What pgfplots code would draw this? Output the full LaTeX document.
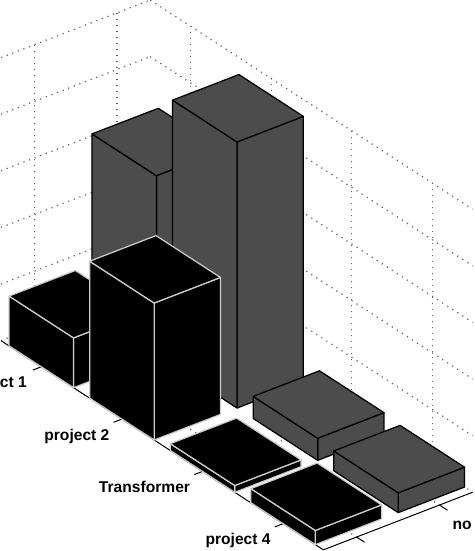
\documentclass[border=0pt]{standalone}
\usepackage{fontspec}
\setmainfont{Liberation Sans}
\usepackage{pgfplots}
\pgfplotsset{compat=1.18}

\definecolor{barfill}{gray}{0.30}
\definecolor{baredge}{gray}{0.80}
\definecolor{griddot}{gray}{0.38}

% one 3d bar: x position, y position, height, fill, edge
\newcommand{\tdbar}[5]{%
  \pgfmathsetmacro{\xa}{#1-0.4}\pgfmathsetmacro{\xb}{#1+0.4}%
  \pgfmathsetmacro{\ya}{#2-0.4}\pgfmathsetmacro{\yb}{#2+0.4}%
  % x side
  \addplot3[fill=#4,draw=#5,barline] coordinates {
    (\xb,\ya,0) (\xb,\yb,0) (\xb,\yb,#3) (\xb,\ya,#3) (\xb,\ya,0)};
  % y side
  \addplot3[fill=#4,draw=#5,barline] coordinates {
    (\xa,\ya,0) (\xb,\ya,0) (\xb,\ya,#3) (\xa,\ya,#3) (\xa,\ya,0)};
  % top
  \addplot3[fill=#4,draw=#5,barline] coordinates {
    (\xa,\ya,#3) (\xb,\ya,#3) (\xb,\yb,#3) (\xa,\yb,#3) (\xa,\ya,#3)};
}

\begin{document}
\begin{tikzpicture}[x=1pt,y=1pt,
    tlabel/.style={inner sep=0pt,anchor=base east,font=\fontsize{15.6}{18}\selectfont\bfseries}]
\path[use as bounding box] (0,0) rectangle (474,551);
\clip (0,0) rectangle (474,551);
\begin{axis}[
    at={(1pt,210.35pt)},
    anchor=origin,
    x={(80.6pt,-52.3pt)},
    y={(82.9pt,32pt)},
    z={(0pt,56.6pt)},
    xmin=0.5,xmax=4.5,
    ymin=0.6,ymax=2.4,
    zmin=0,zmax=5,
    hide axis,
    clip=false,
    barline/.style={line width=1.25pt,line join=round},
    griddots/.style={draw=griddot,line width=1.2pt,dash pattern=on 1.2pt off 4.8pt},
]
% walls and floor grid
\pgfplotsinvokeforeach{0,1,2,3,4,5}{
  \addplot3[griddots] coordinates {(0.5,0.6,#1) (0.5,2.4,#1)};
  \addplot3[griddots] coordinates {(0.5,2.4,#1) (4.5,2.4,#1)};
}
\pgfplotsinvokeforeach{1,2}{
  \addplot3[griddots] coordinates {(0.5,#1,0) (0.5,#1,5)};
  \addplot3[griddots] coordinates {(0.5,#1,0) (4.5,#1,0)};
}
\pgfplotsinvokeforeach{1,2,3,4}{
  \addplot3[griddots] coordinates {(#1,2.4,0) (#1,2.4,5)};
  \addplot3[griddots] coordinates {(#1,0.6,0) (#1,2.4,0)};
}
% axis lines and ticks
\addplot3[black,line width=1pt] coordinates {(0.5,0.6,0) (4.5,0.6,0)};
\addplot3[black,line width=1pt] coordinates {(4.5,0.6,0) (4.5,2.4,0)};
\pgfplotsinvokeforeach{1,2,3,4}{
  \addplot3[black,line width=1pt] coordinates {(#1,0.6,0) (#1,0.5,0)};
}
\pgfplotsinvokeforeach{1,2}{
  \addplot3[black,line width=1pt] coordinates {(4.5,#1,0) (4.6,#1,0)};
}
% grey row
\tdbar{1}{2}{3.18}{barfill}{black}
\tdbar{2}{2}{4.70}{barfill}{black}
\tdbar{3}{2}{0.39}{barfill}{black}
\tdbar{4}{2}{0.35}{barfill}{black}
% black row
\tdbar{1}{1}{0.88}{black}{baredge}
\tdbar{2}{1}{2.42}{black}{baredge}
\tdbar{3}{1}{0.12}{black}{baredge}
\tdbar{4}{1}{0.25}{black}{baredge}
% labels
\node[tlabel,xshift=-6pt,yshift=-18pt] at (axis cs:1,0.5,0) {project 1};
\node[tlabel,xshift=-4pt,yshift=-18pt] at (axis cs:2,0.5,0) {project 2};
\node[tlabel,xshift=-4pt,yshift=-18pt] at (axis cs:3,0.5,0) {Transformer};
\node[tlabel,xshift=-4pt,yshift=-18pt] at (axis cs:4,0.5,0) {project 4};
\node[tlabel,xshift=24.3pt,yshift=-19pt] at (axis cs:4.6,2,0) {no};
\end{axis}
\end{tikzpicture}
\end{document}
